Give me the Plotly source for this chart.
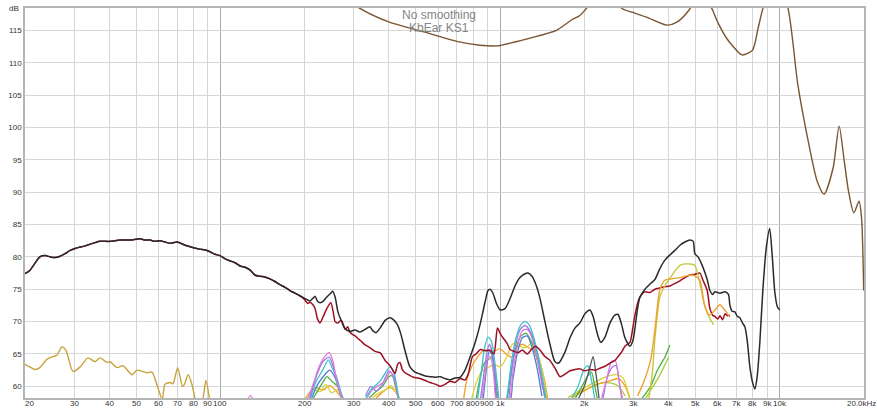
import math
import plotly.graph_objects as go

# ---------------- data ----------------
title_lines = ["No smoothing", "KbEar KS1"]
y_ticks = [60, 65, 70, 75, 80, 85, 90, 95, 100, 105, 110, 115]
x_major = [100, 1000, 10000]
x_minor = [30, 40, 50, 60, 70, 80, 90, 200, 300, 400, 500, 600, 700, 800, 900,
           2000, 3000, 4000, 5000, 6000, 7000, 8000, 9000, 20000]
x_label_vals = [20, 30, 40, 50, 60, 70, 80, 90, 100, 200, 300, 400, 500, 600, 700, 800, 900,
                1000, 2000, 3000, 4000, 5000, 6000, 7000, 8000, 9000, 10000, 20000]
x_label_text = ["20", "30", "40", "50", "60", "70", "80", "90", "100", "200", "300", "400", "500",
                "600", "700", "800", "900", "1k", "2k", "3k", "4k", "5k", "6k", "7k", "8k", "9k",
                "10k", "20.0kHz"]

low_common = [(20, 77.4), (20.8, 77.9), (21.7, 79.0), (22.6, 80.0), (23.6, 80.2), (24.6, 80.0),
              (25.6, 79.9), (26.7, 80.1), (27.8, 80.5), (29, 81.0), (30.2, 81.3), (32.8, 81.7),
              (35.6, 82.2), (37.1, 82.4), (40.3, 82.4), (43.7, 82.6), (47.5, 82.6), (51.6, 82.8),
              (53.7, 82.6), (56, 82.6), (58.3, 82.4), (60.8, 82.5), (63.3, 82.3), (66, 82.1),
              (70, 82.3), (74.7, 81.8), (79, 81.5), (84.5, 81.2), (88, 81.1), (91.7, 80.8),
              (95.6, 80.4), (99.6, 80.2), (104, 79.7), (108, 79.4), (112.7, 79.1), (117.4, 78.6),
              (122.4, 78.4), (127.4, 78.0), (132.8, 77.2), (138.4, 77.0), (144.2, 76.9),
              (150.3, 76.6), (156.6, 76.2), (163.2, 75.7), (170.1, 75.3), (177.2, 74.8),
              (184.6, 74.4), (192, 74.0)]

black_tail = [(200, 73.6), (209, 73.2), (214, 73.6), (218, 73.9), (222, 73.2), (227, 72.9),
              (232, 73.1), (240, 73.8), (248, 74.4), (252, 74.7), (257, 73.8), (263, 71.5),
              (270, 70.2), (279, 68.9), (290, 68.5), (303, 68.7), (315, 68.4), (329, 68.8),
              (342, 69.2), (350, 68.6), (360, 68.3), (372, 69.0), (388, 70.2), (404, 70.6),
              (415, 70.3), (428, 69.6), (440, 68.3), (457, 65.5), (476, 63.0), (496, 62.2),
              (517, 61.9), (540, 61.6), (561, 61.5), (585, 61.4), (610, 61.5), (635, 61.2),
              (662, 61.0), (690, 61.3), (719, 61.4), (749, 62.5), (780, 64.5), (813, 66.7),
              (847, 69.5), (883, 73.0), (905, 74.8), (920, 75.0), (940, 74.5), (970, 72.8),
              (1000, 71.8), (1040, 72.0), (1084, 73.5), (1130, 75.5), (1177, 76.8), (1227, 77.4),
              (1260, 77.5), (1300, 77.0), (1340, 75.8), (1388, 73.6), (1446, 70.0), (1507, 66.5),
              (1571, 63.8), (1620, 63.6), (1706, 65.3), (1778, 67.5), (1851, 69.0), (1929, 69.8),
              (2010, 71.2), (2094, 71.8), (2150, 70.8), (2230, 68.0), (2290, 66.8), (2371, 67.6),
              (2471, 69.8), (2572, 71.0), (2640, 71.1), (2720, 69.5), (2794, 67.5), (2911, 66.2),
              (2980, 67.0), (3034, 69.0), (3100, 72.0), (3162, 73.8), (3295, 75.0), (3434, 75.8),
              (3575, 76.5), (3725, 78.2), (3882, 79.5), (4046, 80.3), (4216, 81.0), (4394, 81.8),
              (4579, 82.3), (4772, 82.6), (4900, 82.4), (4968, 80.5), (5100, 80.0), (5300, 78.5),
              (5500, 76.5), (5623, 74.8), (5750, 74.2), (5860, 74.6), (6107, 74.4), (6364, 74.6),
              (6550, 74.2), (6632, 72.5), (6750, 71.6), (6904, 71.5), (7050, 70.8), (7195, 70.6),
              (7350, 69.8), (7499, 69.2), (7650, 67.0), (7816, 63.0), (8000, 60.5), (8147, 59.6),
              (8300, 61.5), (8489, 67.0), (8700, 75.0), (8950, 81.5), (9200, 84.4), (9400, 80.0),
              (9600, 74.5), (9800, 72.3), (10000, 71.8)]

red_tail = [(200, 73.4), (205, 72.8), (209, 73.0), (214, 72.6), (218, 72.0), (222, 70.5),
            (227, 69.8), (232, 70.6), (240, 72.0), (248, 72.9), (253, 71.5), (257, 70.0),
            (263, 69.8), (270, 70.2), (275, 69.5), (279, 68.8), (285, 69.2), (290, 68.4),
            (297, 68.0), (303, 67.8), (310, 67.4), (318, 67.0), (329, 66.4), (342, 66.0),
            (357, 65.4), (372, 65.2), (388, 64.0), (404, 63.2), (415, 62.3), (421, 62.0),
            (430, 63.4), (438, 63.7), (447, 62.6), (457, 62.1), (470, 61.8), (490, 61.4),
            (517, 61.2), (540, 60.9), (561, 60.6), (590, 60.3), (610, 60.0), (640, 60.4),
            (662, 60.8), (690, 60.6), (719, 61.2), (749, 61.0), (770, 62.0), (796, 64.6),
            (820, 65.0), (850, 65.7), (883, 65.5), (920, 65.6), (950, 65.0), (978, 69.0),
            (1000, 68.2), (1020, 67.6), (1060, 66.6), (1084, 65.7), (1120, 65.4), (1160, 65.2),
            (1200, 65.6), (1250, 65.0), (1300, 65.8), (1340, 66.2), (1388, 65.6), (1446, 64.6),
            (1500, 64.1), (1571, 62.8), (1637, 61.5), (1706, 61.9), (1778, 62.4), (1851, 62.6),
            (1929, 62.7), (2010, 62.4), (2094, 62.6), (2183, 62.5), (2275, 62.8), (2371, 63.1),
            (2471, 63.6), (2572, 64.0), (2640, 64.6), (2720, 65.3), (2794, 66.2), (2911, 66.8),
            (2980, 69.0), (3034, 71.0), (3100, 72.8), (3162, 73.8), (3295, 74.6), (3434, 74.5),
            (3575, 75.0), (3725, 75.2), (3882, 75.4), (4046, 75.5), (4216, 75.9), (4394, 76.3),
            (4579, 76.8), (4772, 77.2), (4968, 77.3), (5177, 77.5), (5300, 76.5), (5500, 74.8),
            (5623, 72.0), (5750, 71.0), (5860, 70.8), (6000, 70.4), (6107, 70.9), (6250, 70.3),
            (6364, 71.2), (6500, 70.9), (6632, 71.0)]

brown = [(200, 125.0), (280, 120.0), (315, 118.4), (400, 116.3), (561, 114.5), (700, 113.3),
         (847, 112.7), (975, 112.6), (1130, 113.2), (1279, 113.8), (1590, 115.0), (1800, 116.6),
         (1929, 117.3), (2150, 119.5), (2370, 120.5), (2572, 120.3), (2720, 118.4), (2960, 117.8),
         (3350, 117.0), (3950, 115.8), (4300, 116.3), (4730, 118.1), (5177, 121.0), (5710, 118.4),
         (5960, 116.5), (6470, 113.7), (7195, 111.4), (7380, 111.2), (7980, 111.9), (8350, 115.2),
         (8700, 118.4), (9600, 124.0), (10700, 118.4), (11600, 106.6), (12500, 98.9),
         (13600, 91.7), (14400, 89.7), (15500, 93.7), (16300, 100.2), (17000, 94.8),
         (17600, 90.2), (18400, 86.8), (19200, 88.6), (19600, 86.0), (19950, 74.8)]

gold_low = [(20, 63.4), (20.8, 63.0), (21.7, 62.6), (22.6, 62.9), (24.0, 64.2), (25.2, 64.6),
            (26.0, 64.8), (27.1, 66.1), (28.0, 65.6), (29.7, 62.3), (31.5, 63.0), (33.6, 64.4),
            (35.6, 63.8), (37.1, 64.4), (39.3, 63.7), (40.3, 63.8), (42.7, 62.9), (44.8, 63.2),
            (48.3, 61.8), (50.3, 62.5), (54.6, 62.1), (56.9, 62.2), (59.3, 60.2), (61.9, 58.0),
            (63.3, 60.3), (66.0, 60.6), (67.6, 60.4), (70.3, 62.9), (73.1, 60.0), (74.3, 60.3),
            (76.7, 61.8), (79.4, 60.0), (82.1, 57.5), (85.7, 57.5), (88.7, 60.9), (91.7, 57.5)]

pink_blip = [(124, 57.5), (128, 58.6), (132, 57.5)]

# harmonic clusters
a_pink = [(205, 58), (215, 60.5), (225, 63), (235, 64.5), (245, 65.2), (252, 64), (260, 61), (270, 58.5), (278, 57)]
a_purple = [(208, 58), (220, 61.5), (232, 63.8), (245, 64.5), (255, 62.5), (265, 59.5), (275, 57.5)]
a_cyan = [(210, 58.2), (220, 60.8), (232, 62.5), (243, 64.1), (250, 63.0), (260, 61.5), (270, 59), (278, 57.5)]
a_blue = [(212, 58.2), (224, 60.5), (236, 61.8), (246, 62.5), (256, 61.5), (268, 59), (276, 57.5)]
a_green = [(215, 58.2), (230, 60.3), (240, 61.5), (250, 60.8), (262, 60), (272, 58.4), (280, 57.5)]
a_yellow = [(205, 58.1), (215, 59.5), (228, 59.2), (238, 60.3), (250, 59), (262, 59.5), (272, 58.4), (280, 57.5)]
a_orange = [(200, 58), (210, 59.2), (220, 59.8), (232, 59.4), (245, 60.1), (258, 59.4), (270, 58.3), (278, 57.5)]

b_cyan = [(330, 58), (345, 59.5), (360, 60.2), (375, 61.0), (390, 62.2), (404, 63.0), (415, 62.5), (425, 60.5), (435, 58)]
b_pink = [(335, 58.3), (350, 59.5), (370, 60.2), (390, 61.0), (404, 62.2), (418, 61.5), (430, 58.5)]
b_green = [(340, 58.2), (360, 59.2), (380, 60.0), (400, 61.5), (412, 61.6), (425, 59.5), (435, 58)]
b_purple = [(330, 58.5), (345, 60), (360, 59.3), (380, 60.4), (400, 62.4), (412, 61.8), (425, 59.8), (432, 58)]
b_yellow = [(350, 58.3), (370, 59), (390, 59.5), (405, 60.1), (420, 59.4), (432, 58.2)]
b_orange = [(360, 58.2), (385, 59.3), (405, 59.8), (425, 59), (438, 58)]

c_orange = [(740, 58), (760, 61), (790, 63), (830, 64.5), (870, 65.5), (900, 65.6), (930, 65.2), (960, 65.5),
            (1000, 65.8), (1050, 65), (1100, 64.5), (1150, 66), (1200, 66.5), (1260, 66), (1320, 65.5),
            (1380, 64), (1440, 61), (1480, 58)]
c_yellow = [(790, 58), (820, 60.5), (860, 62.3), (900, 62.8), (950, 63.4), (1000, 63.0), (1050, 64.3),
            (1100, 66.4), (1150, 66.8), (1200, 66.0), (1250, 66.1), (1300, 66.8), (1360, 65.2), (1420, 62), (1470, 58)]
c_cyan = [(830, 58), (855, 62), (880, 66), (905, 67.6), (930, 67), (955, 64), (985, 59), (1000, 57), (1040, 57),
          (1070, 60), (1100, 64), (1140, 67.5), (1190, 69.6), (1230, 70.0), (1270, 69.5), (1320, 67.5),
          (1370, 64.5), (1420, 61), (1460, 58)]
c_purple = [(850, 58), (875, 62), (895, 65), (915, 66.5), (940, 65), (965, 60), (985, 57.5), (1060, 57.5),
            (1090, 61), (1130, 66), (1180, 68.8), (1230, 69.4), (1280, 68.5), (1330, 66.5), (1380, 63.5), (1440, 58.5)]
c_pink = [(860, 58), (885, 62), (905, 64.6), (925, 64.5), (950, 61.5), (975, 57.5), (1070, 57.5), (1110, 62),
          (1150, 66), (1200, 68.6), (1250, 68.8), (1300, 67.5), (1360, 64), (1420, 59.5)]
c_green = [(820, 58), (845, 61), (875, 63.5), (900, 64), (935, 64.5), (960, 62), (990, 58), (1050, 58),
           (1090, 62), (1140, 66), (1190, 67.8), (1240, 68.2), (1290, 67), (1340, 65), (1400, 61.5), (1450, 58)]
c_blue = [(870, 58), (895, 63), (915, 65.5), (940, 64.5), (960, 60), (980, 57.5), (1080, 57.5), (1110, 61),
          (1150, 65), (1200, 67.5), (1250, 67.8), (1300, 66), (1360, 62.5), (1410, 58.5)]

d_grey = [(1900, 58), (2000, 60), (2080, 62.5), (2150, 64.6), (2200, 62), (2260, 58)]
d_cyan = [(1800, 58), (1900, 60), (1990, 62.5), (2060, 63.2), (2120, 61), (2180, 58)]
d_green = [(1850, 58), (1950, 59.8), (2050, 61.5), (2120, 62.2), (2180, 60), (2230, 58)]
d_pink = [(2300, 58), (2400, 61), (2500, 63.8), (2580, 64), (2650, 61.5), (2720, 58)]
d_purple = [(2330, 58), (2420, 61.5), (2520, 63.0), (2600, 63.2), (2680, 60), (2740, 58)]
d_yellow = [(1780, 58.5), (1950, 59.5), (2150, 60.5), (2400, 61.5), (2600, 61.8), (2750, 61.3), (2850, 59.5), (2920, 58)]
d_orange = [(1800, 58.2), (2000, 59.3), (2200, 60.3), (2450, 60.8), (2650, 61.2), (2800, 60), (2900, 58.3)]
d_lime = [(1750, 58.3), (1900, 59), (2100, 59.8), (2300, 60.5), (2500, 60.5), (2650, 60), (2800, 58.5)]

e_orange = [(3100, 58.5), (3250, 60.5), (3450, 64), (3575, 68.7), (3725, 74.9), (3880, 76.4), (4100, 76.6),
            (4400, 76.8), (4800, 77.2), (5000, 77.0), (5177, 76.4), (5400, 72.3), (5620, 71.0),
            (5860, 71.8), (6100, 72.6), (6350, 71.8), (6632, 70.7)]
e_yellow = [(3400, 58), (3500, 62), (3575, 67.2), (3725, 73.8), (3880, 75.5), (4046, 76.7), (4394, 78.7),
            (4772, 78.9), (4968, 78.7), (5177, 75.9), (5400, 72.3), (5620, 70.5), (5800, 69.5)]
e_green = [(3200, 58), (3450, 60), (3650, 62.5), (3880, 64.5), (4046, 66.4)]
e_lime = [(3300, 58), (3500, 59.8), (3700, 61.5), (3900, 63.5), (4000, 64.5)]

# ---------------- figure ----------------
fig = go.Figure()


def add(pts, color, width=1.3):
    fig.add_trace(go.Scatter(x=[p[0] for p in pts], y=[p[1] for p in pts], mode="lines",
                             line=dict(color=color, width=width, shape="spline", smoothing=0.7),
                             hoverinfo="skip", showlegend=False))


CYAN, PURPLE, PINK, GREEN, YELLOW, ORANGE, BLUE, LIME = (
    "#3cc0cc", "#9d78e6", "#e07ad8", "#4fae45", "#d9d23a", "#f2a024", "#4a7fd8", "#a6cf3c")

add(gold_low, "#c9a23a", 1.4)
add(pink_blip, PINK, 1.2)
for pts, c in [(a_orange, ORANGE), (a_yellow, YELLOW), (a_green, GREEN), (a_blue, BLUE),
               (a_cyan, CYAN), (a_purple, PURPLE), (a_pink, PINK),
               (b_orange, ORANGE), (b_yellow, YELLOW), (b_green, GREEN), (b_purple, PURPLE),
               (b_pink, PINK), (b_cyan, CYAN),
               (d_lime, LIME), (d_orange, ORANGE), (d_yellow, YELLOW), (d_green, GREEN),
               (d_cyan, CYAN), (d_purple, PURPLE), (d_pink, PINK), (d_grey, "#555555"),
               (e_green, GREEN), (e_lime, LIME),
               (c_orange, ORANGE), (c_yellow, YELLOW), (c_green, GREEN), (c_blue, BLUE),
               (c_pink, PINK), (c_purple, PURPLE), (c_cyan, CYAN)]:
    add(pts, c, 1.3)

add(low_common + red_tail, "#9c0f22", 1.5)
add(e_yellow, "#c9c83a", 1.4)
add(e_orange, "#f0a030", 1.4)
add(low_common + black_tail, "#2a2a2a", 1.5)
add(brown, "#7a5530", 1.4)

FONT = "Liberation Sans, Arial, sans-serif"

annotations = []
for v, t in zip(x_label_vals, x_label_text):
    if v == x_label_vals[0]:
        anchor, shift = "left", -2
    elif v == x_label_vals[-1]:
        anchor, shift = "center", -3
    else:
        anchor, shift = "center", 0
    annotations.append(dict(x=math.log10(v), y=0, xref="x", yref="paper", text=t, showarrow=False,
                            xanchor=anchor, yanchor="top", xshift=shift, yshift=1,
                            font=dict(family=FONT, size=8, color="#333333")))
annotations.append(dict(x=0.5, y=1, xref="paper", yref="paper", text=title_lines[0], showarrow=False,
                        xanchor="center", yanchor="middle", xshift=-6, yshift=-7,
                        font=dict(family=FONT, size=12, color="#858585")))
annotations.append(dict(x=0.5, y=1, xref="paper", yref="paper", text=title_lines[1], showarrow=False,
                        xanchor="center", yanchor="middle", xshift=-6, yshift=-20,
                        font=dict(family=FONT, size=12, color="#858585")))
annotations.append(dict(x=0, y=1, xref="paper", yref="paper", text="dB", showarrow=False,
                        xanchor="right", yanchor="top", xshift=-4, yshift=6,
                        font=dict(family=FONT, size=8, color="#333333")))

fig.update_layout(
    width=877, height=410,
    margin=dict(l=25, r=13, t=6, b=12),
    paper_bgcolor="white", plot_bgcolor="white",
    annotations=annotations,
    xaxis=dict(type="log", range=[math.log10(20), math.log10(20000)],
               tickvals=x_major, showticklabels=False, ticks="",
               showgrid=True, gridcolor="#a9a9a9", gridwidth=1,
               minor=dict(tickvals=x_minor, showgrid=True, gridcolor="#d6d6d6", gridwidth=1, ticks=""),
               showline=True, mirror=True, linecolor="#b4b4b4", linewidth=1.5, zeroline=False),
    yaxis=dict(range=[58.2, 118.45], tickvals=y_ticks, ticks="", ticklen=0,
               tickfont=dict(family=FONT, size=8, color="#333333"),
               showgrid=True, gridcolor="#d6d6d6", gridwidth=1,
               showline=True, mirror=True, linecolor="#b4b4b4", linewidth=1.5, zeroline=False),
)

fig.write_html("out.html")
